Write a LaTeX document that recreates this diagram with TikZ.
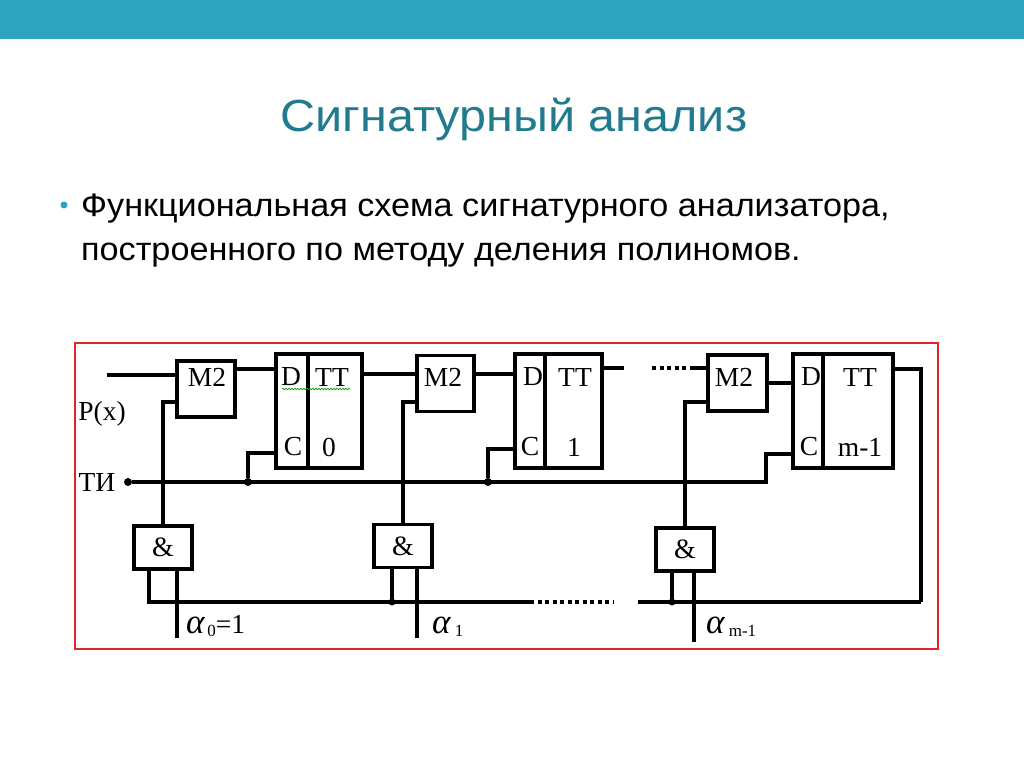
\documentclass[tikz,border=0pt]{standalone}
\usepackage{fontspec}
\setmainfont{Liberation Sans}
\newfontfamily\schemefont{Liberation Serif}
\usepackage{tikz}
\usetikzlibrary{positioning,decorations.pathmorphing}
\definecolor{bandblue}{HTML}{2EA3BF}
\definecolor{titleteal}{HTML}{217A8E}
\definecolor{framered}{HTML}{E0242C}
\tikzset{
  box node/.style={rectangle, draw, line width=3.2pt, outer sep=0pt, inner sep=0pt},
  sum node/.style={box node, minimum height=56pt},
  cell node/.style={box node, minimum height=114pt},
  and node/.style={box node, minimum width=58pt, minimum height=43pt, font=\schemefont\fontsize{28}{28}\selectfont},
  dot node/.style={circle, fill=black, minimum size=8pt, inner sep=0pt, outer sep=0pt},
  bus dot/.style={dot node, minimum size=7pt},
  lbl/.style={inner sep=0pt, font=\schemefont\fontsize{27.5}{27.5}\selectfont},
  body line/.style={inner sep=0pt, anchor=base west, font=\fontsize{32.5}{32.5}\selectfont},
  wire/.style={line width=3.2pt},
  dots wire/.style={line width=3.2pt, dash pattern=on 4pt off 3.5pt},
}
\begin{document}
\begin{tikzpicture}[x=1pt, y=-1pt]
        \useasboundingbox (0,0) rectangle (1024,767);
        % Slide
        \fill[bandblue] (0,0) rectangle (1024,39);
        \node[inner sep=0pt, anchor=base, text=titleteal, font=\fontsize{45}{45}\selectfont] (title) at (514,132) {\scalebox{1.078}[1]{Сигнатурный анализ}};
        \node[circle, fill=bandblue, minimum size=7pt, inner sep=0pt] (bullet) at (64,205) {};
        \node[body line] (lineone) at (81,217) {\scalebox{1.052}[1]{Функциональная схема сигнатурного анализатора,}};
        \node[body line] (linetwo) at (81,260) {\scalebox{1.052}[1]{построенного по методу деления полиномов.}};
        \node[rectangle, draw=framered, line width=1.4pt, minimum width=863pt, minimum height=306pt, inner sep=0pt] (frame) at (506.5,496) {};
        % Nodes
        \node[sum node, minimum width=58pt] (mzero) at (206,389) {};
        \node[cell node, minimum width=32pt] [right = 41pt of mzero, yshift=-22pt] (dzero) {};
        \node[cell node, minimum width=54pt] [right = 0pt of dzero] (tzero) {};
        \node[sum node, minimum width=57pt] [right = 55pt of tzero, yshift=27.5pt] (mone) {};
        \node[cell node, minimum width=30pt] [right = 41pt of mone, yshift=-27.5pt] (done) {};
        \node[cell node, minimum width=57pt] [right = 0pt of done] (tone) {};
        \node[sum node, minimum width=59pt] [right = 106pt of tone, yshift=28pt] (mlast) {};
        \node[cell node, minimum width=30pt] [right = 26pt of mlast, yshift=-28pt] (dlast) {};
        \node[cell node, minimum width=70pt] [right = 0pt of dlast] (tlast) {};
        \node[and node] [below = 109pt of mzero, xshift=-43pt] (andzero) {\&};
        \node[and node] [below = 113pt of mone, xshift=-42.5pt] (andone) {\&};
        \node[and node] [below = 117pt of mlast, xshift=-52.5pt] (andlast) {\&};
        \node[dot node] (tidot) at (128,482) {};
        \node[dot node] (tapzero) at (248,482) {};
        \node[dot node] (tapone) at (488,482) {};
        \node[bus dot] (busdotone) at (392,602) {};
        \node[bus dot] (busdotlast) at (672,602) {};
        % Labels
        \node[lbl] (mzerotxt) at (207,377) {M2};
        \node[lbl] (monetxt) at (443,377) {M2};
        \node[lbl] (mlasttxt) at (734,377) {M2};
        \node[lbl] (dzerotxt) at (291,377) {D};
        \node[lbl] (tzerotxt) at (332,377) {TT};
        \node[lbl] (czerotxt) at (293,447) {C};
        \node[lbl] (nzerotxt) at (329,447) {0};
        \node[lbl] (donetxt) at (533,377) {D};
        \node[lbl] (tonetxt) at (575,377) {TT};
        \node[lbl] (conetxt) at (530,447) {C};
        \node[lbl] (nonetxt) at (574,447) {1};
        \node[lbl] (dlasttxt) at (811,377) {D};
        \node[lbl] (tlasttxt) at (860,377) {TT};
        \node[lbl] (clasttxt) at (809,447) {C};
        \node[lbl] (nlasttxt) at (860,447) {m-1};
        \node[lbl] (pxtxt) at (102,414) {P(x)};
        \node[lbl] (titxt) at (97,482) {ТИ};
        \node[lbl, anchor=base west] (azerotxt) at (186,633) {{\fontsize{35}{35}\selectfont\itshape α}\raisebox{-3pt}{\fontsize{17}{17}\selectfont\,0}=1};
        \node[lbl, anchor=base west] (aonetxt) at (432,633) {{\fontsize{35}{35}\selectfont\itshape α}\raisebox{-3pt}{\fontsize{17}{17}\selectfont\ 1}};
        \node[lbl, anchor=base west] (alasttxt) at (706,633) {{\fontsize{35}{35}\selectfont\itshape α}\raisebox{-3pt}{\fontsize{17}{17}\selectfont\ m-1}};
        % Free ends
        \coordinate (pin) at (107,375);
        \coordinate (toneout) at (624,368);
        \coordinate (dotsin) at (652,368);
        \coordinate (dotsend) at (693,368);
        \coordinate (ticorner) at (766,482);
        \coordinate (busmid) at (530,602);
        \coordinate (busdots) at (614,602);
        \coordinate (busright) at (638,602);
        \coordinate (busend) at (921,602);
        \coordinate (azeroend) at (177,638);
        \coordinate (aoneend) at (417,638);
        \coordinate (alastend) at (694,642);
        \coordinate (squigstart) at (282,389);
        \coordinate (squigend) at (350,389);
        % Paths
        \path[draw,wire]
        (pin) -- (pin -| mzero.west)
        ([yshift=20pt]mzero.east) -- ([yshift=42pt]dzero.west)
        ([yshift=37pt]tzero.east) -- ([yshift=9.5pt]mone.west)
        ([yshift=9.5pt]mone.east) -- ([yshift=37pt]done.west)
        ([yshift=43pt]tone.east) -- (toneout)
        (dotsend) -- ([yshift=15pt]mlast.west)
        (mlast.east) -- ([yshift=28pt]dlast.west)
        ([yshift=42pt]tlast.east) -| (busend)
        (busend) -- (busright)
        (tidot) -- (ticorner) |- ([yshift=-43pt]dlast.west)
        (tapzero) |- ([yshift=-42pt]dzero.west)
        (tapone) |- ([yshift=-38pt]done.west)
        ([yshift=-13pt]mzero.west) -| (andzero.north)
        ([yshift=-18.5pt]mone.west) -| (andone.north)
        ([yshift=-19pt]mlast.west) -| (andlast.north)
        ([xshift=-14pt]andzero.south) |- (busmid)
        ([xshift=14pt]andzero.south) -- (azeroend)
        ([xshift=-11pt]andone.south) -- (busdotone)
        ([xshift=14pt]andone.south) -- (aoneend)
        ([xshift=-13pt]andlast.south) -- (busdotlast)
        ([xshift=9pt]andlast.south) -- (alastend);
        \draw[dots wire] (dotsin) -- (dotsend);
        \draw[dots wire] (busmid) -- (busdots);
        \draw[green!60!black, line width=0.7pt, decorate, decoration={snake, amplitude=0.7pt, segment length=3pt}] (squigstart) -- (squigend);
\end{tikzpicture}
\end{document}
